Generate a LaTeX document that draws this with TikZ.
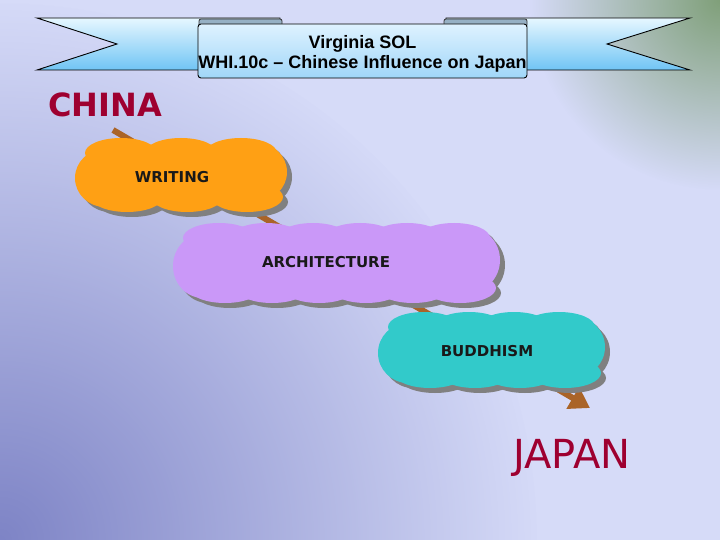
\documentclass[tikz,border=0pt]{standalone}
\usepackage{fontspec}
\setmainfont{DejaVu Sans}
\newfontfamily\bannerfont{Liberation Sans}
\usetikzlibrary{fadings,arrows.meta}

\definecolor{bgmid}{RGB}{214,219,248}
\definecolor{bgbot}{RGB}{126,132,198}
\definecolor{bgcorner}{RGB}{128,160,122}
\definecolor{wingtop}{RGB}{230,247,255}
\definecolor{wingbot}{RGB}{112,196,244}
\definecolor{paneltop}{RGB}{222,242,255}
\definecolor{panelbot}{RGB}{160,214,248}
\definecolor{earfill}{RGB}{150,176,196}
\definecolor{redtext}{RGB}{158,0,48}
\definecolor{arrowbrown}{RGB}{170,100,40}
\definecolor{orangecloud}{RGB}{255,160,20}
\definecolor{purplecloud}{RGB}{202,152,248}
\definecolor{tealcloud}{RGB}{50,202,202}

\tikzfading[name=softedge, inner color=transparent!0, outer color=transparent!100]

% cloud of puffs with a grey shadow: [fill](centre)(width:height)
\def\puffcloud[#1](#2)(#3:#4){%
	\begin{scope}[shift={(#2)}]
		\foreach \tone/\off in {black!50/5, #1/0} {
			\begin{scope}[shift={(\off, \off)}]
				\pgfmathsetmacro\hw{#3/2}
				\pgfmathsetmacro\hh{#4/2}
				\pgfmathtruncatemacro\nb{round((#3-92)/50)}
				\fill[\tone] (-\hw+24, -\hh+10) rectangle (\hw-24, \hh-10);
				\fill[\tone] (-\hw+30, 3) ellipse (30 and \hh-8);
				\fill[\tone] (\hw-30, -3) ellipse (30 and \hh-8);
				\foreach \k in {0,...,\nb} {
					\pgfmathsetmacro\bx{-\hw+46+\k*(#3-92)/\nb}
					\fill[\tone] (\bx, -\hh+15) ellipse (36 and 15);
					\fill[\tone] (\bx+6, \hh-15) ellipse (36 and 15);
				}
			\end{scope}
		}
	\end{scope}}

\tikzset{
  idealabel/.style={inner sep=0pt, text=black!90, font=\bfseries\fontsize{15}{15}\selectfont},
  wing/.style={draw=black, line width=0.9pt, top color=wingtop, bottom color=wingbot},
  ear/.style={draw=black!80, line width=0.8pt, fill=earfill, rounded corners=2pt},
  place/.style={text=redtext, inner sep=0pt},
}

\begin{document}
\begin{tikzpicture}[x=1pt, y=-1pt]
			%%%%% START %%%%%
			
			\useasboundingbox (0, 0) rectangle (720, 540);
			\fill[bgmid] (0, 0) rectangle (720, 540);
			\begin{scope}
				\clip (0, 0) rectangle (720, 540);
				\fill[bgbot, path fading=softedge] (0, 540) circle (540pt);
				\fill[bgcorner, path fading=softedge] (720, 0) circle (190pt);
			\end{scope}
			
			% the path from china to japan
			\coordinate (trailstart) at (113, 130);
			\coordinate (trailend) at (590, 408);
			\draw[line width=6pt, arrowbrown, -{Triangle[length=20pt, width=24pt]}] (trailstart) -- (trailend);
			
			\puffcloud[orangecloud](181, 175)(212:74)
			\puffcloud[purplecloud](336.5, 263)(327:80)
			\puffcloud[tealcloud](491.5, 350)(227:76)
			
			\node[idealabel] (writing) at (172, 177) {WRITING};
			\node[idealabel] (architecture) at (326, 262) {ARCHITECTURE};
			\node[idealabel] (buddhism) at (487, 351) {BUDDHISM};
			
			% banner
			\draw[wing] (37, 18) -- (280, 18) -- (280, 70) -- (37, 70) -- (117, 44) -- cycle;
			\draw[wing] (690, 18) -- (446, 18) -- (446, 70) -- (690, 70) -- (607, 44) -- cycle;
			\draw[ear] (199, 19) rectangle (282, 27);
			\draw[ear] (444, 19) rectangle (527, 27);
			\draw[line width=0.9pt, top color=paneltop, bottom color=panelbot, rounded corners=3pt] (198, 24) rectangle (527, 78);
			\node[align=center, inner sep=0pt, font=\bannerfont\bfseries\fontsize{18}{19.5}\selectfont] (title) at (362.5, 54) {Virginia SOL\\WHI.10c – Chinese Influence on Japan};
			
			\node[place, anchor=base west, font=\bfseries\fontsize{32}{32}\selectfont] (china) at (48, 117) {CHINA};
			\node[place, anchor=base west, font=\fontsize{40}{40}\selectfont] (japan) at (513, 468) {JAPAN};
			
			%%%%% END %%%%%
\end{tikzpicture}
\end{document}
